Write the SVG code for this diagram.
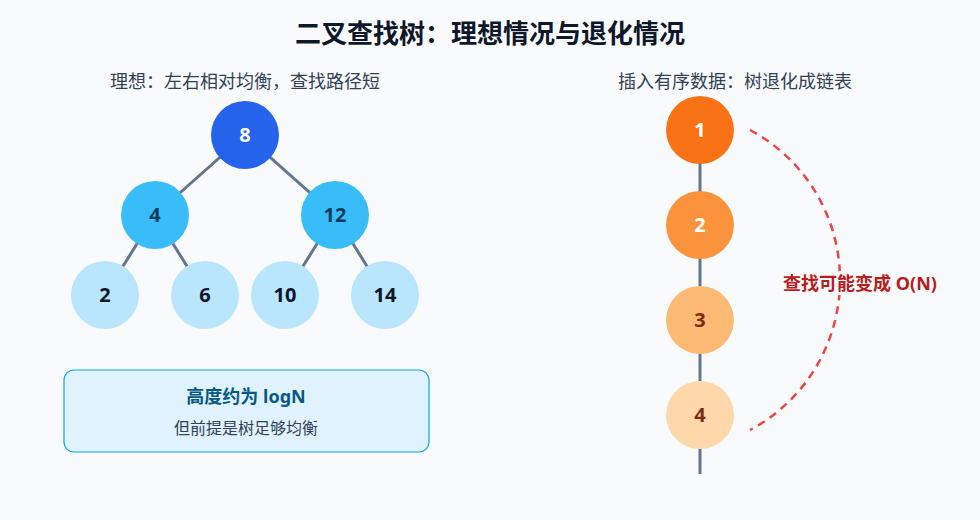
<svg xmlns="http://www.w3.org/2000/svg" width="980" height="520" viewBox="0 0 980 520">
<style>
text{font-family:"Noto Sans","Noto Sans CJK SC",sans-serif;text-anchor:middle}
.title{font-size:26px;font-weight:700;fill:#0f172a}
.sub{font-size:18px;fill:#334155}
.num{font-size:20px;font-weight:700}
.edge{stroke:#64748b;stroke-width:3;fill:none}
</style>
<rect width="980" height="520" fill="#f8fafc"/>
<text class="title" x="490" y="43">二叉查找树：理想情况与退化情况</text>
<text class="sub" x="245" y="88">理想：左右相对均衡，查找路径短</text>
<text class="sub" x="735" y="88">插入有序数据：树退化成链表</text>
<g id="connectors">
<line class="edge" x1="245" y1="135" x2="155" y2="215"/>
<line class="edge" x1="245" y1="135" x2="335" y2="215"/>
<line class="edge" x1="155" y1="215" x2="105" y2="295"/>
<line class="edge" x1="155" y1="215" x2="205" y2="295"/>
<line class="edge" x1="335" y1="215" x2="285" y2="295"/>
<line class="edge" x1="335" y1="215" x2="385" y2="295"/>
<line class="edge" x1="700" y1="130" x2="700" y2="474"/>
<path d="M750 130 A170 170 0 0 1 750 430" fill="none" stroke="#ef4444" stroke-width="2.5" stroke-dasharray="8 6"/>
</g>
<g id="n8"><circle cx="245" cy="135" r="34" fill="#2563eb"/><text class="num" x="245" y="142" fill="#ffffff">8</text></g>
<g id="n4"><circle cx="155" cy="215" r="34" fill="#38bdf8"/><text class="num" x="155" y="222" fill="#0c3b5e">4</text></g>
<g id="n12"><circle cx="335" cy="215" r="34" fill="#38bdf8"/><text class="num" x="335" y="222" fill="#0c3b5e">12</text></g>
<g id="n2"><circle cx="105" cy="295" r="34" fill="#bae6fd"/><text class="num" x="105" y="302" fill="#0f172a">2</text></g>
<g id="n6"><circle cx="205" cy="295" r="34" fill="#bae6fd"/><text class="num" x="205" y="302" fill="#0f172a">6</text></g>
<g id="n10"><circle cx="285" cy="295" r="34" fill="#bae6fd"/><text class="num" x="285" y="302" fill="#0f172a">10</text></g>
<g id="n14"><circle cx="385" cy="295" r="34" fill="#bae6fd"/><text class="num" x="385" y="302" fill="#0f172a">14</text></g>
<g id="c1"><circle cx="700" cy="130" r="34" fill="#f97316"/><text class="num" x="700" y="137" fill="#ffffff">1</text></g>
<g id="c2"><circle cx="700" cy="225" r="34" fill="#fb923c"/><text class="num" x="700" y="232" fill="#ffffff">2</text></g>
<g id="c3"><circle cx="700" cy="320" r="34" fill="#fdba74"/><text class="num" x="700" y="327" fill="#7c2d12">3</text></g>
<g id="c4"><circle cx="700" cy="415" r="34" fill="#fed7aa"/><text class="num" x="700" y="422" fill="#7c2d12">4</text></g>
<g id="label-on"><text x="860" y="290" font-size="18" font-weight="700" fill="#b91c1c" stroke="#f8fafc" stroke-width="6" paint-order="stroke" stroke-linejoin="round">查找可能变成 O(N)</text></g>
<g id="note">
<rect x="64" y="370" width="365" height="82" rx="10" fill="#e0f2fe" stroke="#0ea5e9" stroke-width="1.2"/>
<text x="246" y="403" font-size="18" font-weight="700" fill="#075985">高度约为 logN</text>
<text x="246" y="434" font-size="16" fill="#334155">但前提是树足够均衡</text>
</g>
</svg>
